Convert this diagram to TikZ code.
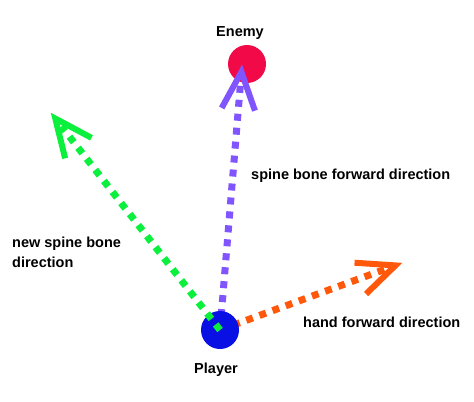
\documentclass[tikz,border=0pt]{standalone}
\usepackage{fontspec}
\setmainfont{Liberation Sans}
\usetikzlibrary{calc}
\definecolor{enemyred}{RGB}{242,10,72}
\definecolor{playerblue}{RGB}{8,16,228}
\definecolor{spinepurple}{RGB}{128,84,255}
\definecolor{newgreen}{RGB}{10,240,60}
\definecolor{handorange}{RGB}{255,88,10}
\pgfdeclarelayer{bg}
\pgfdeclarelayer{back}
\pgfsetlayers{bg,back,main}
\begin{document}
\begin{tikzpicture}[x=1bp,y=-1bp,
  lbl/.style={font=\bfseries\fontsize{14.5bp}{20bp}\selectfont, inner sep=0pt},
  dotline/.style={line width=7bp, dash pattern=on 7bp off 7bp, line cap=butt},
  barb/.style={line width=6bp, line join=miter, miter limit=10, line cap=butt},
  disc/.style={circle, inner sep=0pt, minimum size=38bp}]
\useasboundingbox (0,0) rectangle (474,401);
\begin{pgfonlayer}{bg}
\fill[white] (0,0) rectangle (474,401);
\end{pgfonlayer}
% bodies
\node[disc, fill=playerblue] (player) at (220,330) {};
\begin{pgfonlayer}{back}
\node[disc, fill=enemyred] (enemy) at (247,64) {};
\end{pgfonlayer}
% arrow tips (visual points)
\coordinate (ptip) at (242,65);
\coordinate (gtip) at (51,113);
\coordinate (otip) at (402,263);
% arrow vertices (centre line of the barbs)
\coordinate (pv) at ($(ptip)!7bp!(player.center)$);
\coordinate (gv) at ($(gtip)!7bp!(player.center)$);
\coordinate (ov) at ($(otip)!7bp!(player.center)$);
% purple and orange behind the player
\begin{pgfonlayer}{back}
\draw[dotline, spinepurple] (player.center) -- ($(ptip)!17bp!(player.center)$);
\draw[barb, spinepurple] ($(pv)!41bp!24:(player.center)$) -- (pv) -- ($(pv)!41bp!-24:(player.center)$);
\draw[dotline, handorange] (player.center) -- ($(otip)!18bp!(player.center)$);
\draw[barb, handorange] ($(ov)!41bp!24:(player.center)$) -- (ov) -- ($(ov)!41bp!-24:(player.center)$);
\end{pgfonlayer}
% green over the player
\draw[dotline, newgreen] (player.center) -- ($(gtip)!17bp!(player.center)$);
\draw[barb, newgreen] ($(gv)!41bp!24:(player.center)$) -- (gv) -- ($(gv)!41bp!-24:(player.center)$);
% labels
\node[lbl, anchor=base] (enemylbl) at (240,36) {Enemy};
\node[lbl, anchor=base] (playerlbl) at (216,373) {Player};
\node[lbl, anchor=base west] (spinelbl) at (251,179) {spine bone forward direction};
\node[lbl, anchor=base west] (handlbl) at (303,327) {hand forward direction};
\node[lbl, anchor=north west, align=left] (newlbl) at (12,237) {new spine bone\\direction};
\end{tikzpicture}
\end{document}
